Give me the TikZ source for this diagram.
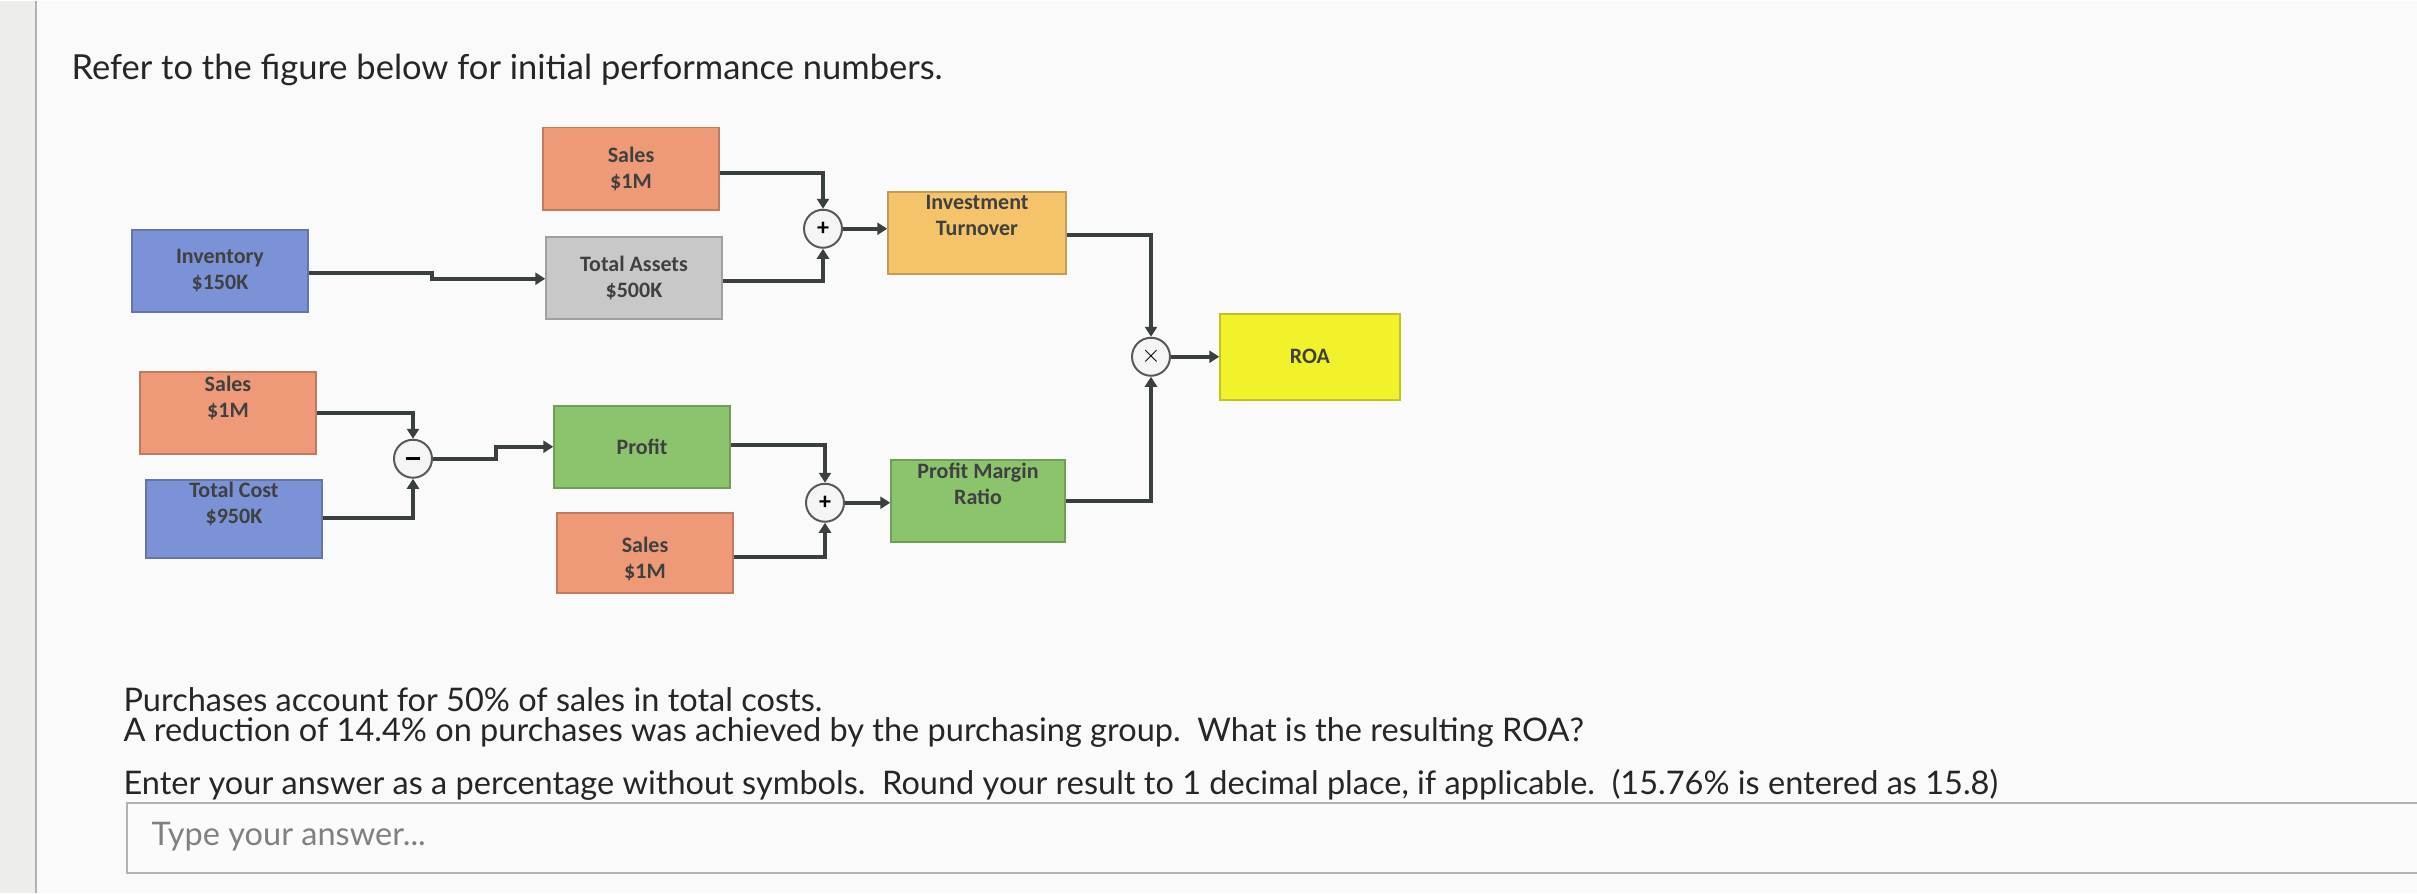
\documentclass[tikz,border=0pt]{standalone}
\usepackage{fontspec}
\setmainfont{Lato}
\newfontfamily\boxfont{Carlito}
\usetikzlibrary{arrows.meta}
\definecolor{bg}{HTML}{EDEDEC}
\definecolor{salesc}{HTML}{EE9A78}
\definecolor{bluec}{HTML}{7C92D6}
\definecolor{grayc}{HTML}{C8C8C8}
\definecolor{orc}{HTML}{F5C46A}
\definecolor{grc}{HTML}{8CC46E}
\definecolor{yelc}{HTML}{F2F22A}
\definecolor{linec}{HTML}{3A3F3F}
\tikzset{
 blk/.style={draw=#1!80!black,fill=#1,line width=1.5pt,minimum width=176pt,minimum height=82pt,align=center,font=\boxfont\bfseries\fontsize{22}{26}\selectfont,text=black!75,inner sep=2pt},
 op/.style={circle,draw=gray!70!black,fill=gray!8,line width=2pt,minimum size=38pt,inner sep=0pt,font=\boxfont\bfseries\fontsize{24}{24}\selectfont},
 con/.style={draw=linec,line width=4pt,-{Triangle[length=10pt,width=12pt]}},
 txt/.style={anchor=west,font=\fontsize{32.5}{36}\selectfont,text=black!85}
}
\begin{document}
\begin{tikzpicture}[x=1pt,y=-1pt]
\fill[bg] (0,0) rectangle (2417,892);
\fill[white!96!gray] (36,0) rectangle (2417,892);
\draw[gray!60,line width=1.5pt] (36,0) -- (36,892);
\useasboundingbox (0,0) rectangle (2417,892);
\node[txt,font=\fontsize{34.5}{38}\selectfont] (title) at (68,69) {Refer to the figure below for initial performance numbers.};
\node[blk=salesc] (s1) at (631,168) {Sales\\\$1M};
\node[blk=bluec] (inv) at (220,270) {Inventory\\\$150K};
\node[blk=grayc] (ta) at (634,277) {Total Assets\\\$500K};
\node[op] (p1) at (823,228) {+};
\node[blk=orc,minimum width=178pt] (it) at (977,232) {Investment\\Turnover\\[8pt]};
\node[op] (x) at (1151,356) {$\times$};
\node[blk=yelc,minimum width=180pt,minimum height=86pt] (roa) at (1310,356) {ROA};
\node[blk=salesc] (s2) at (228,412) {Sales\\\$1M\\[6pt]};
\node[op] (m) at (413,458) {\rule{14pt}{3pt}};
\node[blk=bluec,minimum height=78pt] (tc) at (234,518) {Total Cost\\\$950K\\[6pt]};
\node[blk=grc] (pr) at (642,446) {Profit};
\node[op] (p2) at (825,502) {+};
\node[blk=grc,minimum width=174pt] (pm) at (978,500) {Profit Margin\\Ratio\\[8pt]};
\node[blk=salesc,minimum height=80pt] (s3) at (645,552) {\\[2pt]Sales\\\$1M};
\draw[con] (s1.east|-0,172) -| (p1.north);
\draw[con] (ta.east|-0,280) -| (p1.south);
\draw[con] (p1) -- (it.west|-p1);
\draw[con] (inv.east|-0,272) -- (432,272) -- (432,278) -- (ta.west|-0,278);
\draw[con] (it.east|-0,234) -| (x.north);
\draw[con] (pm.east|-0,500) -| (x.south);
\draw[con] (x) -- (roa.west|-x);
\draw[con] (s2.east|-0,412) -| (m.north);
\draw[con] (tc.east|-0,517) -| (m.south);
\draw[con] (m.east) -- (496,458) -- (496,446) -- (pr.west);
\draw[con] (pr.east|-0,444) -| (p2.north);
\draw[con] (s3.east|-0,556) -| (p2.south);
\draw[con] (p2) -- (pm.west|-p2);
\node[txt] (l1) at (120,699) {Purchases account for 50\% of sales in total costs.};
\node[txt] (l2) at (120,732) {A reduction of 14.4\% on purchases was achieved by the purchasing group.\ \ What is the resulting ROA?};
\node[txt] (l3) at (120,784) {Enter your answer as a percentage without symbols.\ \ Round your result to 1 decimal place, if applicable.\ \ (15.76\% is entered as 15.8)};
\draw[gray!60,line width=1.5pt,fill=white!97!gray] (127,802) rectangle (2430,872);
\node[txt,text=gray] (ph) at (148,836) {Type your answer...};
\end{tikzpicture}
\end{document}
